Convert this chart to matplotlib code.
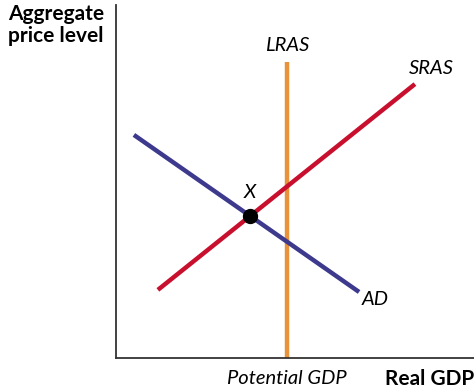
import matplotlib
matplotlib.use("Agg")
import matplotlib.pyplot as plt

# curve end points (data units, 0-10 scale)
sras_x = [1.17, 8.35]
sras_y = [1.93, 7.76]
ad_x = [0.50, 6.79]
ad_y = [6.32, 1.87]
lras_x = [4.78, 4.78]
lras_y = [0.0, 8.39]
eq_x = [3.74]
eq_y = [4.03]

ink = "#333333"
fig = plt.figure(figsize=(4.74, 3.92), dpi=100)
ax = fig.add_axes([116 / 474, 34 / 392, 358 / 474, 353 / 392])
ax.set_xlim(0, 10)
ax.set_ylim(0, 10)
for s in ["top", "right"]:
    ax.spines[s].set_visible(False)
for s in ["left", "bottom"]:
    ax.spines[s].set_color(ink)
    ax.spines[s].set_linewidth(1.3)
ax.set_xticks([])
ax.set_yticks([])

ax.plot(lras_x, lras_y, color="#E8923A", lw=3.2, solid_capstyle="butt", zorder=2)
ax.plot(sras_x, sras_y, color="#C8102E", lw=3.2, solid_capstyle="butt", zorder=3)
ax.plot(ad_x, ad_y, color="#3D3A8E", lw=3.2, solid_capstyle="butt", zorder=4)
ax.plot(eq_x, eq_y, "o", color="black", ms=10, zorder=5)

fam = ["Lato", "DejaVu Sans"]
ax.text(4.78, 8.85, "LRAS", style="italic", ha="center", va="center", fontsize=14.5, family=fam)
ax.text(8.8, 8.2, "SRAS", style="italic", ha="center", va="center", fontsize=14.5, family=fam)
ax.text(3.74, 4.7, "X", style="italic", ha="center", va="center", fontsize=14.5, family=fam)
ax.text(7.25, 1.65, "AD", style="italic", ha="center", va="center", fontsize=14.5, family=fam)

fig.text(287 / 474, 1 - 379 / 392, "Potential GDP", style="italic", ha="center", va="center",
         fontsize=14.5, family=fam)
fig.text(1.0, 1 - 379 / 392, "Real GDP", weight="bold", ha="right", va="center",
         fontsize=15, family=fam)
fig.text(104 / 474, 1 - 4 / 392, "Aggregate\nprice level", weight="bold", ha="right", va="top",
         fontsize=15, family=fam, multialignment="right", linespacing=1.15)

fig.savefig("out.png", dpi=100)
